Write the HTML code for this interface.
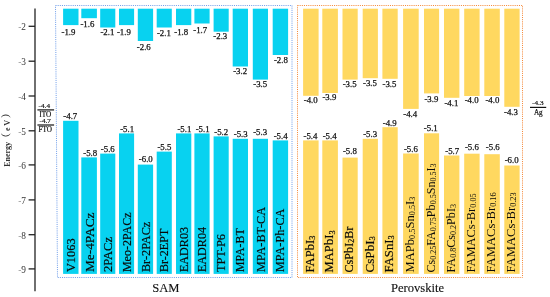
<!DOCTYPE html>
<html><head><meta charset="utf-8"><title>Energy levels</title>
<style>
html,body{margin:0;padding:0;background:#fff}
body{width:550px;height:297px;overflow:hidden}
svg{display:block}
text{font-family:"Liberation Serif","Noto Serif CJK SC",serif;fill:#111}
.tk text{font-size:9.3px;fill:#333}
.vl text{font-size:8.8px;stroke:#111;stroke-width:.25px}
.nm text{fill:#0a0a0a;stroke:#0a0a0a;stroke-width:.18px}
.nm text.lt{stroke-width:0}
.nm .sb{font-size:.66em}
.rf text{font-size:7.2px;stroke:#111;stroke-width:.2px}
.gl text{font-size:12.6px;stroke:#111;stroke-width:.12px}
.yl{font-size:8px;font-weight:bold;fill:#333}
.yl .pr{font-size:10px}
</style></head><body>
<svg width="550" height="297" viewBox="0 0 550 297">
<rect width="550" height="297" fill="#fff"/>
<g stroke="#222" stroke-width="1.3" fill="none"><path d="M35 8.6V291.3"/>
<path d="M28.6 26.3 H35"/>
<path d="M28.6 61.2 H35"/>
<path d="M28.6 96 H35"/>
<path d="M28.6 130.8 H35"/>
<path d="M28.6 164.9 H35"/>
<path d="M28.6 199.9 H35"/>
<path d="M28.6 234.7 H35"/>
<path d="M28.6 268.9 H35"/>
</g>
<g class="tk">
<text x="26" y="30.3" text-anchor="end"><tspan fill="#999">-</tspan>2</text>
<text x="26" y="65.2" text-anchor="end"><tspan fill="#999">-</tspan>3</text>
<text x="26" y="100.0" text-anchor="end"><tspan fill="#999">-</tspan>4</text>
<text x="26" y="134.8" text-anchor="end"><tspan fill="#999">-</tspan>5</text>
<text x="26" y="168.9" text-anchor="end"><tspan fill="#999">-</tspan>6</text>
<text x="26" y="203.9" text-anchor="end"><tspan fill="#999">-</tspan>7</text>
<text x="26" y="238.7" text-anchor="end"><tspan fill="#999">-</tspan>8</text>
<text x="26" y="272.9" text-anchor="end"><tspan fill="#999">-</tspan>9</text>
</g>
<text class="yl" transform="translate(10.2 166.8) rotate(-90)">Energy<tspan class="pr" dx="-1">（</tspan><tspan dx="2.0" letter-spacing="1.5">eV</tspan><tspan class="pr" dx="0.6">）</tspan></text>
<path d="M55.5 5.5 H292 V277.5 H57.5 Z" fill="none" stroke="#5b8fe6" stroke-width="1" stroke-dasharray="1.05 1.1" opacity=".85"/>
<path d="M297.5 5.5 H522.5 V277.5 H297.5 Z" fill="none" stroke="#f58a3c" stroke-width="1" stroke-dasharray="1.05 1.1"/>
<g fill="#08d2f0">
<rect x="63.1" y="8.7" width="15.4" height="16.4"/>
<rect x="63.1" y="120.8" width="15.4" height="153.1"/>
<rect x="81.3" y="8.7" width="15.6" height="9.5"/>
<rect x="81.3" y="157.4" width="15.6" height="116.5"/>
<rect x="100.2" y="8.7" width="15.1" height="18.8"/>
<rect x="100.2" y="153.6" width="15.1" height="120.3"/>
<rect x="119.0" y="8.7" width="15.1" height="16.4"/>
<rect x="119.0" y="133.4" width="15.1" height="140.5"/>
<rect x="137.8" y="8.7" width="15.3" height="32.3"/>
<rect x="137.8" y="164.6" width="15.3" height="109.3"/>
<rect x="156.7" y="8.7" width="15.1" height="18.8"/>
<rect x="156.7" y="151.6" width="15.1" height="122.3"/>
<rect x="176.0" y="8.7" width="15.3" height="16.4"/>
<rect x="176.0" y="133.4" width="15.3" height="140.5"/>
<rect x="194.4" y="8.7" width="15.2" height="14.8"/>
<rect x="194.4" y="133.4" width="15.2" height="140.5"/>
<rect x="213.6" y="8.7" width="15.1" height="23.0"/>
<rect x="213.6" y="136.4" width="15.1" height="137.5"/>
<rect x="232.7" y="8.7" width="15.3" height="57.8"/>
<rect x="232.7" y="138.8" width="15.3" height="135.1"/>
<rect x="252.8" y="8.7" width="15.2" height="70.9"/>
<rect x="252.8" y="138.8" width="15.2" height="135.1"/>
<rect x="272.7" y="8.7" width="15.4" height="46.3"/>
<rect x="272.7" y="140.4" width="15.4" height="133.5"/>
</g>
<g fill="#ffd860">
<rect x="303.1" y="8.7" width="15.5" height="87.1"/>
<rect x="303.1" y="140.4" width="15.5" height="133.5"/>
<rect x="322.3" y="8.7" width="15.6" height="84.3"/>
<rect x="322.3" y="140.4" width="15.6" height="133.5"/>
<rect x="342.5" y="8.7" width="15.2" height="70.9"/>
<rect x="342.5" y="157.6" width="15.2" height="116.3"/>
<rect x="362.7" y="8.7" width="15.2" height="69.5"/>
<rect x="362.7" y="138.8" width="15.2" height="135.1"/>
<rect x="382.4" y="8.7" width="15.3" height="70.1"/>
<rect x="382.4" y="127.2" width="15.3" height="146.7"/>
<rect x="403.1" y="8.7" width="15.6" height="100.2"/>
<rect x="403.1" y="153.5" width="15.6" height="120.4"/>
<rect x="424.0" y="8.7" width="15.1" height="84.7"/>
<rect x="424.0" y="133.3" width="15.1" height="140.6"/>
<rect x="444.0" y="8.7" width="15.4" height="89.1"/>
<rect x="444.0" y="155.5" width="15.4" height="118.4"/>
<rect x="464.2" y="8.7" width="15.4" height="87.3"/>
<rect x="464.2" y="153.7" width="15.4" height="120.2"/>
<rect x="484.3" y="8.7" width="15.5" height="87.3"/>
<rect x="484.3" y="154.2" width="15.5" height="119.7"/>
<rect x="504.3" y="8.7" width="15.3" height="98.1"/>
<rect x="504.3" y="165.5" width="15.3" height="108.4"/>
</g>
<g class="vl" text-anchor="middle">
<text x="68.5" y="35.3">-1.9</text>
<text x="87.4" y="26.8">-1.6</text>
<text x="107.4" y="34.9">-2.1</text>
<text x="123.9" y="35.3">-1.9</text>
<text x="143.8" y="50.3">-2.6</text>
<text x="163.9" y="36.3">-2.1</text>
<text x="181.2" y="35.3">-1.8</text>
<text x="200.2" y="32.5">-1.7</text>
<text x="220.3" y="39.3">-2.3</text>
<text x="240.1" y="74.3">-3.2</text>
<text x="260.2" y="87.0">-3.5</text>
<text x="280.9" y="62.8">-2.8</text>
<text x="70.3" y="118.9">-4.7</text>
<text x="90.2" y="155.9">-5.8</text>
<text x="107.8" y="151.9">-5.6</text>
<text x="127.1" y="132.1">-5.1</text>
<text x="145.8" y="162.0">-6.0</text>
<text x="164.4" y="149.9">-5.5</text>
<text x="184.4" y="132.1">-5.1</text>
<text x="202.6" y="132.1">-5.1</text>
<text x="221.2" y="135.1">-5.2</text>
<text x="240.7" y="136.7">-5.3</text>
<text x="260.1" y="135.1">-5.3</text>
<text x="280.6" y="139.1">-5.4</text>
<text x="310.7" y="103.2">-4.0</text>
<text x="329.4" y="99.9">-3.9</text>
<text x="349.6" y="87.2">-3.5</text>
<text x="370.0" y="86.2">-3.5</text>
<text x="389.5" y="87.2">-3.5</text>
<text x="410.2" y="116.5">-4.4</text>
<text x="431.4" y="102.0">-3.9</text>
<text x="451.4" y="105.6">-4.1</text>
<text x="471.6" y="103.2">-4.0</text>
<text x="492.4" y="103.2">-4.0</text>
<text x="511.0" y="115.0">-4.3</text>
<text x="310.5" y="139.1">-5.4</text>
<text x="329.6" y="139.1">-5.4</text>
<text x="349.9" y="154.3">-5.8</text>
<text x="370.1" y="137.3">-5.3</text>
<text x="389.7" y="125.5">-4.9</text>
<text x="410.9" y="152.2">-5.6</text>
<text x="430.8" y="131.0">-5.1</text>
<text x="452.2" y="154.0">-5.7</text>
<text x="471.9" y="150.3">-5.6</text>
<text x="492.8" y="150.3">-5.6</text>
<text x="511.6" y="163.4">-6.0</text>
</g>
<g class="nm">
<text font-size="12.39" transform="translate(74.9 272.1) rotate(-90)">V1063</text>
<text font-size="13.36" transform="translate(93.5 272.1) rotate(-90)">Me-4PACz</text>
<text font-size="12.58" transform="translate(111.9 272.1) rotate(-90)">2PACz</text>
<text font-size="12.06" transform="translate(130.5 272.1) rotate(-90)">Meo-2PACz</text>
<text font-size="12.28" transform="translate(149.5 272.1) rotate(-90)">Br-2PACz</text>
<text font-size="12.10" transform="translate(168.2 272.1) rotate(-90)">Br-2EPT</text>
<text font-size="12.13" transform="translate(187.7 272.1) rotate(-90)">EADR03</text>
<text font-size="12.13" transform="translate(206.0 272.1) rotate(-90)">EADR04</text>
<text font-size="12.39" transform="translate(225.2 272.1) rotate(-90)">TPT-P6</text>
<text font-size="11.89" transform="translate(244.3 272.1) rotate(-90)">MPA-BT</text>
<text font-size="12.28" transform="translate(264.5 272.1) rotate(-90)">MPA-BT-CA</text>
<text font-size="12.26" transform="translate(284.4 272.1) rotate(-90)">MPA-Ph-CA</text>
<text font-size="12.62" transform="translate(314.0 272.5) rotate(-90)">FAPbI<tspan class="sb" dy="1.2">3</tspan></text>
<text font-size="12.65" transform="translate(333.3 272.5) rotate(-90)">MAPbI<tspan class="sb" dy="1.2">3</tspan></text>
<text font-size="12.16" transform="translate(353.1 272.5) rotate(-90)">CsPbI<tspan class="sb" dy="1.2">2</tspan><tspan dy="-1.2">Br</tspan></text>
<text font-size="13.13" transform="translate(373.6 272.5) rotate(-90)">CsPbI<tspan class="sb" dy="1.2">3</tspan></text>
<text font-size="12.72" transform="translate(393.2 272.5) rotate(-90)">FASnI<tspan class="sb" dy="1.2">3</tspan></text>
<text class="lt" font-size="12.58" transform="translate(414.0 272.5) rotate(-90)">MAPb<tspan class="sb" dy="1.2">0.5</tspan><tspan dy="-1.2">Sn</tspan><tspan class="sb" dy="1.2">0.5</tspan><tspan dy="-1.2">I</tspan><tspan class="sb" dy="1.2">3</tspan></text>
<text class="lt" font-size="12.11" transform="translate(434.6 272.5) rotate(-90)">Cs<tspan class="sb" dy="1.2">0.25</tspan><tspan dy="-1.2">FA</tspan><tspan class="sb" dy="1.2">0.75</tspan><tspan dy="-1.2">Pb</tspan><tspan class="sb" dy="1.2">0.5</tspan><tspan dy="-1.2">Sn</tspan><tspan class="sb" dy="1.2">0.5</tspan><tspan dy="-1.2">I</tspan><tspan class="sb" dy="1.2">3</tspan></text>
<text class="lt" font-size="12.16" transform="translate(454.7 272.5) rotate(-90)">FA<tspan class="sb" dy="1.2">0.8</tspan><tspan dy="-1.2">Cs</tspan><tspan class="sb" dy="1.2">0.2</tspan><tspan dy="-1.2">PbI</tspan><tspan class="sb" dy="1.2">3</tspan></text>
<text class="lt" font-size="12.45" transform="translate(475.0 272.5) rotate(-90)">FAMACs-Br<tspan class="sb" dy="1.2">0.05</tspan></text>
<text class="lt" font-size="12.62" transform="translate(495.2 272.5) rotate(-90)">FAMACs-Br<tspan class="sb" dy="1.2">0.16</tspan></text>
<text class="lt" font-size="12.62" transform="translate(515.1 272.5) rotate(-90)">FAMACs-Br<tspan class="sb" dy="1.2">0.23</tspan></text>
</g>
<g stroke="#111" stroke-width="1.2"><path d="M37.4 109.9H54.1"/><path d="M37.4 125H54.1"/><path d="M530 107.4H546.2"/></g>
<g class="rf" text-anchor="middle"><text transform="translate(44.3 108.1) scale(1 .78)">-4.4</text><text x="45.3" y="116.8" font-size="6.9">ITO</text><text transform="translate(45.2 122.6) scale(1 .8)">-4.7</text><text x="45.3" y="132.3" font-size="7.2">FTO</text><text transform="translate(537.8 104.9) scale(1 .8)">-4.3</text><text x="538.3" y="115">Ag</text></g>
<g class="gl" text-anchor="middle"><text x="165.8" y="292">SAM</text><text x="417.5" y="292">Perovskite</text></g>
</svg>
</body></html>
